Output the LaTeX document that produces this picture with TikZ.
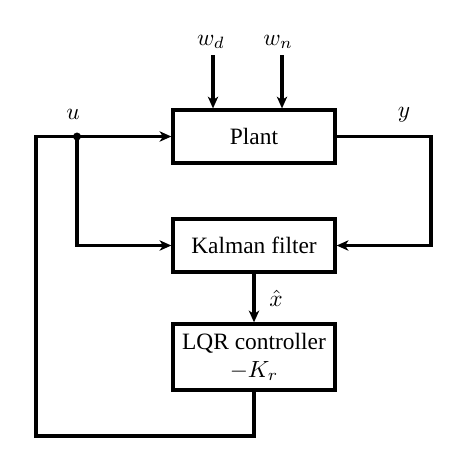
\documentclass[tikz,border=0pt]{standalone}
\usepackage{fontspec}
\setmainfont{Liberation Serif}
\usetikzlibrary{arrows.meta}
\begin{document}
\begin{tikzpicture}[x=0.427pt,y=-0.427pt,
  every path/.style={line width=1.4pt},
  blk/.style={draw,line width=1.4pt,minimum width=69.2pt,inner sep=1pt,align=center,font=\normalsize},
  sig/.style={-{Stealth[length=5pt,width=4.4pt,inset=1.4pt]}},
  lbl/.style={anchor=base,inner sep=0pt}]
\useasboundingbox (0,0) rectangle (474,469);
\node[blk,minimum height=22.6pt] (plant) at (254,136.5) {Plant};
\node[blk,minimum height=22.6pt] (kal) at (254,245.5) {Kalman filter};
\node[blk,minimum height=28.2pt] (lqr) at (254,357) {LQR controller\\$-K_r$};
\coordinate (j) at (77,136.5);
\coordinate (wd) at (213,55);
\coordinate (wn) at (282,55);
\coordinate (yr) at (431,136.5);
\coordinate (bl) at (36,436);
\fill (j) circle (1.7pt);
\node[lbl] (wdl) at (211,45) {$w_d$};
\node[lbl] (wnl) at (278,45) {$w_n$};
\node[lbl] (ul) at (73,119) {$u$};
\node[lbl] (yl) at (404,117) {$y$};
\node[lbl] (xl) at (276,306) {$\hat{x}$};
\draw[sig] (wd) -- (wd |- plant.north);
\draw[sig] (wn) -- (wn |- plant.north);
\draw[sig] (j) -- (plant.west);
\draw[sig] (j) |- (kal.west);
\draw[sig] (plant.east) -- (yr) |- (kal.east);
\draw[sig] (kal.south) -- (lqr.north);
\draw (lqr.south) |- (bl) |- (j);
\end{tikzpicture}
\end{document}
